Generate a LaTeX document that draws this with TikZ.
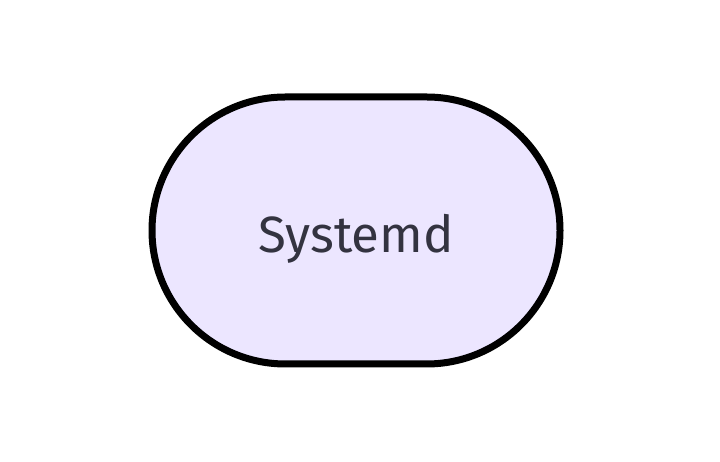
\documentclass[tikz,border=0pt]{standalone}
\usepackage{fontspec}
\setmainfont{Fira Sans}
\definecolor{nodefill}{HTML}{ECE6FF}
\definecolor{nodetext}{HTML}{333340}
\tikzset{
  stadium/.style={draw=black, line width=7pt, fill=nodefill, rounded corners=133.5pt,
    minimum width=408pt, minimum height=267pt, rectangle, inner sep=0pt,
    text=nodetext, font=\fontsize{51}{60}\selectfont}
}
\begin{document}
\begin{tikzpicture}[x=1pt,y=1pt]
\useasboundingbox (0,0) rectangle (720,462);
\node[stadium] (systemd) at (356,231.5) {\raisebox{-8pt}[\height][\depth]{Systemd}};
\end{tikzpicture}
\end{document}
